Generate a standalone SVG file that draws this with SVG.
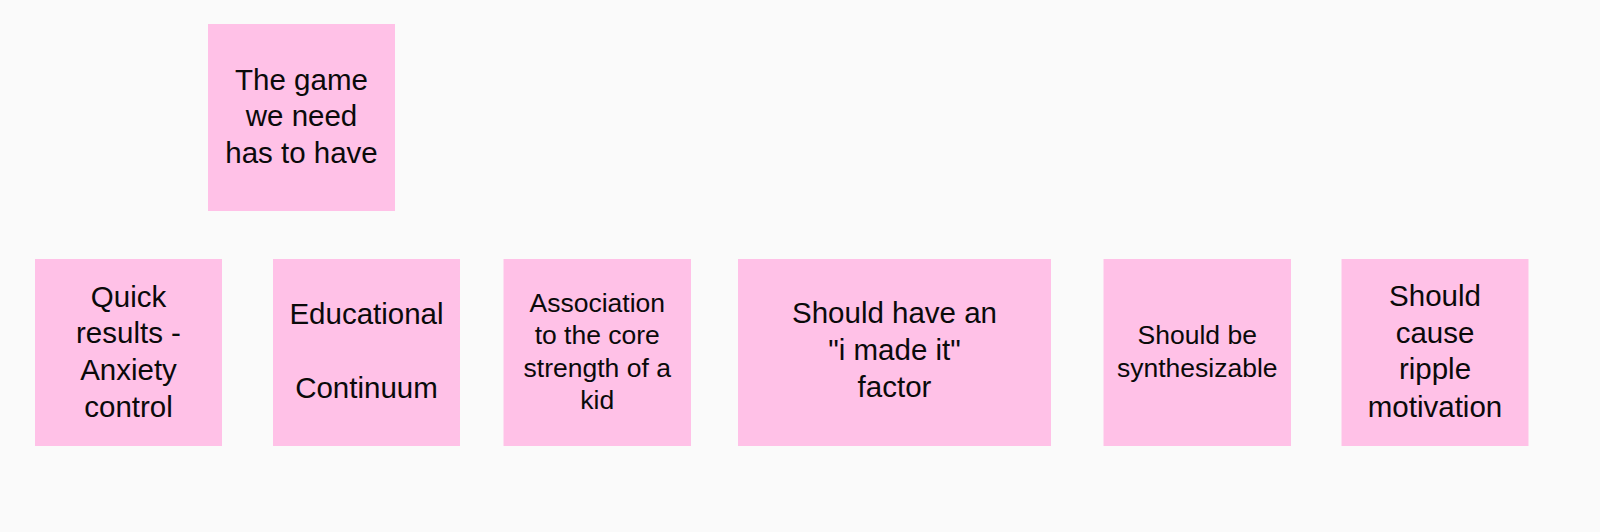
<svg xmlns="http://www.w3.org/2000/svg" width="1600" height="532" viewBox="0 0 1600 532">
<style>
.bg{fill:#FAFAFA}
.note{fill:#FFC1E7}
.t{font-family:"Liberation Sans",Arial,sans-serif;fill:#0A0A0A;text-anchor:middle}
.l{font-size:29.5px}
.s{font-size:26.5px}
</style>
<rect class="bg" x="0" y="0" width="1600" height="532"/>
<g id="connectors"></g>
<g id="node-top">
<rect class="note" x="208" y="24" width="187" height="187"/>
<text class="t l" x="301.5" y="89.5">The game</text>
<text class="t l" x="301.5" y="126">we need</text>
<text class="t l" x="301.5" y="163">has to have</text>
</g>
<g id="node-quick">
<rect class="note" x="35" y="259" width="187" height="187"/>
<text class="t l" x="128.5" y="306.5">Quick</text>
<text class="t l" x="128.5" y="343.3">results -</text>
<text class="t l" x="128.5" y="380">Anxiety</text>
<text class="t l" x="128.5" y="416.7">control</text>
</g>
<g id="node-educational">
<rect class="note" x="273" y="259" width="187" height="187"/>
<text class="t l" x="366.5" y="324">Educational</text>
<text class="t l" x="366.5" y="397.7">Continuum</text>
</g>
<g id="node-association">
<rect class="note" x="503.5" y="259" width="187.5" height="187"/>
<text class="t s" x="597.25" y="311.7">Association</text>
<text class="t s" x="597.25" y="344.3">to the core</text>
<text class="t s" x="597.25" y="376.7">strength of a</text>
<text class="t s" x="597.25" y="409.3">kid</text>
</g>
<g id="node-imadeit">
<rect class="note" x="738" y="259" width="313" height="187"/>
<text class="t l" x="894.5" y="323.3">Should have an</text>
<text class="t l" x="894.5" y="360">"i made it"</text>
<text class="t l" x="894.5" y="396.7">factor</text>
</g>
<g id="node-synth">
<rect class="note" x="1103.5" y="259" width="187.5" height="187"/>
<text class="t s" x="1197.25" y="344.3">Should be</text>
<text class="t s" x="1197.25" y="376.7">synthesizable</text>
</g>
<g id="node-ripple">
<rect class="note" x="1341.5" y="259" width="187" height="187"/>
<text class="t l" x="1435" y="306">Should</text>
<text class="t l" x="1435" y="342.7">cause</text>
<text class="t l" x="1435" y="379.3">ripple</text>
<text class="t l" x="1435" y="416.7">motivation</text>
</g>
</svg>
